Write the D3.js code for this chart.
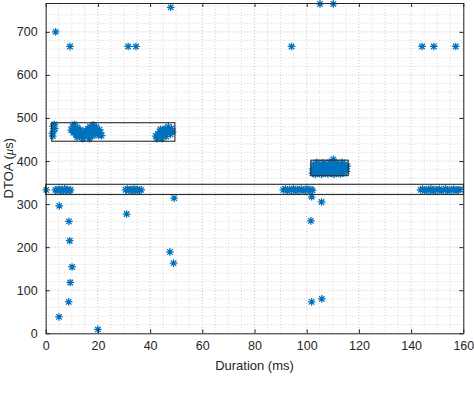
<!DOCTYPE html>
<html>
<head>
<meta charset="utf-8">
<script src="https://cdn.jsdelivr.net/npm/d3@7"></script>
<style>
  html, body { margin: 0; padding: 0; background: #fff; }
  svg { display: block; font-family: "Liberation Sans", Arial, Helvetica, sans-serif; }
</style>
</head>
<body>
<svg id="chart" width="474" height="399"></svg>
<script>
// ---------------- data ----------------
const xTicks = [0, 20, 40, 60, 80, 100, 120, 140, 160];
const yTicks = [0, 100, 200, 300, 400, 500, 600, 700];
const xLabel = "Duration (ms)";
const yLabel = "DTOA (μs)";

// isolated pulses [duration ms, DTOA µs]
const isolated = [
  [0.2, 333], [3.8, 700], [9.3, 666], [31.6, 666], [34.6, 666], [47.9, 757],
  [94.2, 666], [105.1, 765], [110.2, 765], [144.2, 666], [148.7, 666], [157.1, 666],
  [5.2, 296], [8.9, 260], [9.2, 215], [10.1, 154], [9.4, 118], [8.8, 73], [5.1, 38],
  [20.0, 9], [31.0, 277], [49.2, 314], [47.6, 189], [49.0, 163],
  [101.9, 317], [105.7, 305], [101.6, 261], [101.9, 73], [105.8, 80], [110.2, 404]
];

// cluster around 333 µs
const band1 = [[3.7, 333], [4.4, 331], [5.0, 335], [5.6, 332], [6.2, 334], [6.8, 330], [7.3, 336], [7.9, 332], [8.5, 334], [9.1, 331], [9.5, 333]];
const band2 = [[30.6, 333], [31.3, 335], [31.9, 331], [32.6, 334], [33.2, 332], [33.9, 336], [34.5, 330], [35.2, 334], [35.9, 332], [36.6, 333]];
const band3 = [[91.0, 333], [91.8, 335], [92.6, 331], [93.4, 334], [94.1, 332], [94.9, 336], [95.6, 330], [96.4, 334], [97.1, 332],
               [97.9, 335], [98.6, 331], [99.4, 333], [100.1, 336], [100.9, 330], [101.6, 334], [102.2, 332]];
const band4 = [[143.6, 333], [144.4, 335], [145.2, 331], [146.0, 334], [146.8, 332], [147.6, 336], [148.4, 330], [149.2, 334],
               [150.0, 332], [150.8, 335], [151.6, 331], [152.4, 333], [153.2, 336], [154.0, 330], [154.8, 334], [155.6, 332],
               [156.4, 335], [157.2, 331], [158.0, 333], [158.7, 334]];

// cluster around 470 µs
const boxA1 = [[2.6, 464], [2.8, 481], [3.0, 469], [3.3, 485], [3.5, 476], [2.7, 458]];
const boxA2 = [[9.8, 472], [10.3, 480], [10.6, 466], [11.0, 485], [11.4, 474], [11.8, 461], [12.2, 478], [12.6, 468],
               [13.0, 457], [13.4, 472], [13.8, 462], [14.2, 452], [14.6, 466], [15.0, 456], [15.4, 470], [15.8, 460],
               [16.2, 475], [16.6, 465], [17.0, 480], [17.4, 470], [17.8, 458], [18.2, 484], [18.6, 474], [19.0, 463],
               [19.4, 479], [19.8, 469], [20.2, 460], [20.6, 473], [21.0, 466], [21.4, 459], [12.0, 455], [16.8, 452]];
const boxA3 = [[42.2, 458], [42.6, 452], [43.0, 463], [43.4, 456], [43.8, 468], [44.2, 460], [44.6, 452], [45.0, 472],
               [45.4, 464], [45.8, 476], [46.2, 457], [46.6, 468], [47.0, 480], [47.4, 472], [47.8, 462], [48.2, 476],
               [48.6, 468], [44.0, 474]];

// cluster around 385 µs
const boxC = [[102.2, 372], [102.4, 382], [102.6, 393], [103.3, 369], [103.5, 378], [103.7, 388], [103.9, 397],
              [104.6, 373], [104.8, 383], [105.0, 392], [105.7, 369], [105.9, 378], [106.1, 387], [106.3, 396],
              [107.0, 374], [107.2, 383], [107.4, 393], [108.1, 370], [108.3, 379], [108.5, 388], [108.7, 397],
              [109.4, 373], [109.6, 382], [109.8, 392], [110.5, 369], [110.7, 378], [110.9, 387], [111.1, 396],
              [111.8, 374], [112.0, 383], [112.2, 393], [112.9, 370], [113.1, 379], [113.3, 388], [113.5, 397],
              [114.2, 373], [114.4, 382], [114.6, 392], [115.3, 376], [115.5, 388]];

// highlight rectangles [x0, x1, y0, y1]
const rects = [
  [2.3, 49.5, 446, 489],
  [0, 160, 322.5, 346],
  [101.6, 115.9, 366, 402]
];

// ---------------- layout ----------------
const svg = d3.select("#chart");
const L = 45.7, R = 463.3, T = 3, B = 333.3;
const x = d3.scaleLinear().domain([0, 160]).range([L, R]);
const y = d3.scaleLinear().domain([0, 767]).range([B, T]);
const axisColor = "#262626";
const markerColor = "#0072BD";

// grid (minor + major, dotted)
const gridG = svg.append("g");
const xMinor = d3.range(0, 160.01, 5);
const yMinor = d3.range(0, 767, 20);
gridG.selectAll(".vx").data(xMinor).join("line")
  .attr("x1", d => x(d)).attr("x2", d => x(d)).attr("y1", T).attr("y2", B)
  .attr("stroke", d => d % 20 === 0 ? "#c4c4c4" : "#d6d6d6")
  .attr("stroke-width", 1).attr("stroke-dasharray", "1,2");
gridG.selectAll(".hy").data(yMinor).join("line")
  .attr("y1", d => y(d)).attr("y2", d => y(d)).attr("x1", L).attr("x2", R)
  .attr("stroke", d => d % 100 === 0 ? "#c4c4c4" : "#d6d6d6")
  .attr("stroke-width", 1).attr("stroke-dasharray", "1,2");

// markers
const allPoints = [].concat(isolated, band1, band2, band3, band4, boxA1, boxA2, boxA3, boxC);
const r = 3.8, dg = r * 0.72;
const star = `M${-r},0L${r},0M0,${-r}L0,${r}M${-dg},${-dg}L${dg},${dg}M${-dg},${dg}L${dg},${-dg}`;
svg.append("g").selectAll("path").data(allPoints).join("path")
  .attr("transform", d => `translate(${x(d[0])},${y(d[1])})`)
  .attr("d", star)
  .attr("fill", "none")
  .attr("stroke", markerColor)
  .attr("stroke-width", 1.25);

// rectangles
svg.append("g").selectAll("rect").data(rects).join("rect")
  .attr("x", d => x(d[0])).attr("width", d => x(d[1]) - x(d[0]))
  .attr("y", d => y(d[3])).attr("height", d => y(d[2]) - y(d[3]))
  .attr("fill", "none").attr("stroke", "#2a2a2a").attr("stroke-width", 1.1);

// axes
const tickLen = 4;
function styleAxis(g) {
  g.selectAll("path.domain").attr("stroke", axisColor);
  g.selectAll(".tick line").attr("stroke", axisColor);
  g.selectAll(".tick text").attr("fill", "#262626").attr("font-size", 12.5)
    .attr("font-family", "'Liberation Sans', Arial, sans-serif");
}
svg.append("g").attr("transform", `translate(0,${B})`)
  .call(d3.axisBottom(x).tickValues(xTicks).tickSizeInner(-tickLen).tickSizeOuter(0).tickPadding(8))
  .call(styleAxis);
svg.append("g").attr("transform", `translate(0,${T})`)
  .call(d3.axisTop(x).tickValues(xTicks).tickSizeInner(-tickLen).tickSizeOuter(0).tickFormat(""))
  .call(styleAxis);
svg.append("g").attr("transform", `translate(${L},0)`)
  .call(d3.axisLeft(y).tickValues(yTicks).tickSizeInner(-tickLen).tickSizeOuter(0).tickPadding(8))
  .call(styleAxis);
svg.append("g").attr("transform", `translate(${R},0)`)
  .call(d3.axisRight(y).tickValues(yTicks).tickSizeInner(-tickLen).tickSizeOuter(0).tickFormat(""))
  .call(styleAxis);

// axis labels
svg.append("text")
  .attr("x", (L + R) / 2).attr("y", 370)
  .attr("text-anchor", "middle").attr("font-size", 13).attr("fill", "#262626")
  .text(xLabel);

const yl = svg.append("text")
  .attr("transform", `translate(13,${(T + B) / 2}) rotate(-90)`)
  .attr("text-anchor", "middle").attr("font-size", 13).attr("fill", "#262626");
yl.append("tspan").text("DTOA (");
yl.append("tspan").attr("font-style", "italic").attr("font-family", "'Liberation Serif', 'DejaVu Serif', serif").text("μ");
yl.append("tspan").text("s)");
</script>
</body>
</html>
